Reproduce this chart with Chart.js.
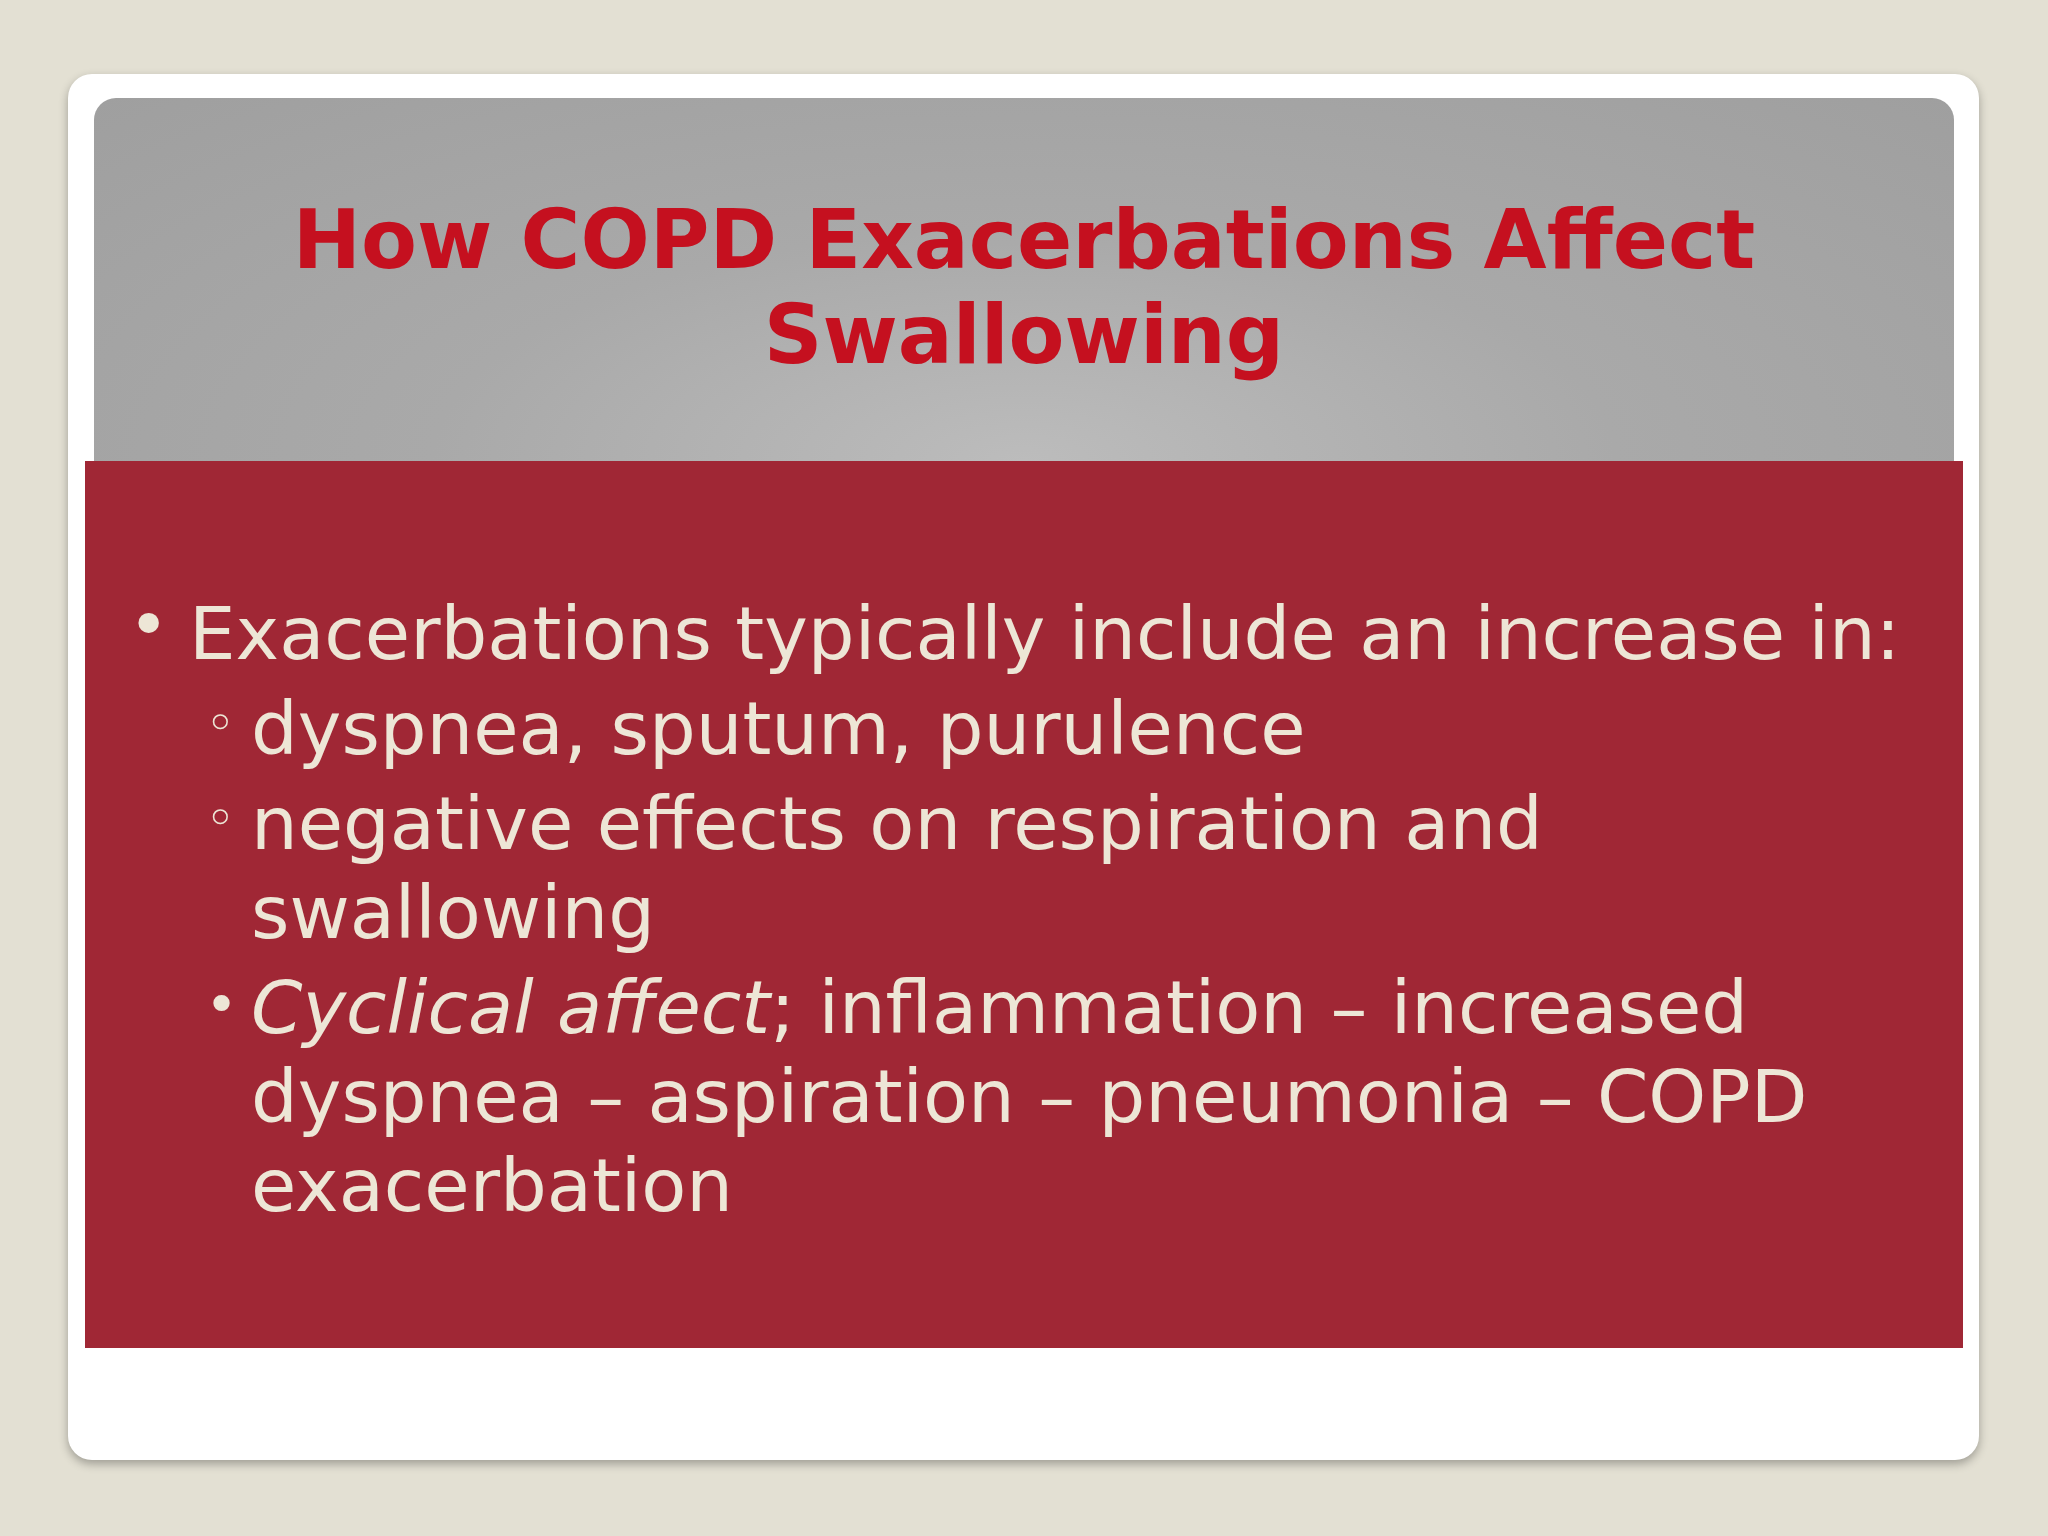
<!DOCTYPE html>
<html><head><meta charset="utf-8">
<script src="https://cdn.jsdelivr.net/npm/chart.js@4"></script>
<style>
html,body{margin:0;padding:0;width:2048px;height:1536px;background:#e3e0d3;overflow:hidden;font-family:"DejaVu Sans",Verdana,sans-serif}
#card{position:absolute;left:68px;top:74px;width:1911px;height:1386px;background:#fff;border-radius:24px;box-shadow:0 4px 10px rgba(0,0,0,0.3)}
#head{position:absolute;left:94px;top:98px;width:1860px;height:363px;border-radius:22px 22px 0 0;background:radial-gradient(ellipse at 50% 100%,#bcbcbc 0%,#a9a9a9 45%,#9f9f9f 100%)}
#title{position:absolute;left:94px;top:192px;width:1860px;text-align:center;color:#c5101f;font-weight:bold;font-size:81.5px;line-height:95px}
#body{position:absolute;left:85px;top:461px;width:1878px;height:887px;background:#a02735}
#chart{position:absolute;left:85px;top:461px;width:1878px;height:887px}
.t{position:absolute;color:#ede6d6;font-size:73.7px;line-height:91px;white-space:nowrap}
.b{position:absolute;color:#ede6d6;font-size:60px}
</style></head><body>
<div id="card"></div><div id="head"></div>
<div id="title"></div>
<div id="body"></div>
<canvas id="chart" width="1878" height="887"></canvas>
<div id="txt"></div>
<script>
const titleLines=["How COPD Exacerbations Affect","Swallowing"];
const items=[
 {lvl:0,bullet:"•",lines:["Exacerbations typically include an increase in:"]},
 {lvl:1,bullet:"◦",lines:["dyspnea, sputum, purulence"]},
 {lvl:1,bullet:"◦",lines:["negative effects on respiration and","swallowing"]},
 {lvl:1,bullet:"•",lines:["<i>Cyclical affect</i>; inflammation – increased","dyspnea – aspiration – pneumonia – COPD","exacerbation"]}
];
document.getElementById('title').innerHTML=titleLines.join('<br>');
let y=588,h='';
for(const it of items){
  const x=it.lvl?251:189, bx=it.lvl?205:128;
  const bs=it.bullet==="◦"?52:(it.lvl?56:70);
  h+=`<div class="b" style="left:${bx}px;top:${y+(it.lvl?10:-4)}px;font-size:${bs}px">${it.bullet}</div>`;
  for(const l of it.lines){h+=`<div class="t" style="left:${x}px;top:${y}px">${l}</div>`;y+=89;}
  y+=6;
}
document.getElementById('txt').innerHTML=h;
new Chart(document.getElementById('chart'),{type:'bar',data:{labels:[],datasets:[]},
 options:{responsive:false,animation:false,plugins:{legend:{display:false},tooltip:{enabled:false}},scales:{x:{display:false},y:{display:false}}}});
</script>
</body></html>
